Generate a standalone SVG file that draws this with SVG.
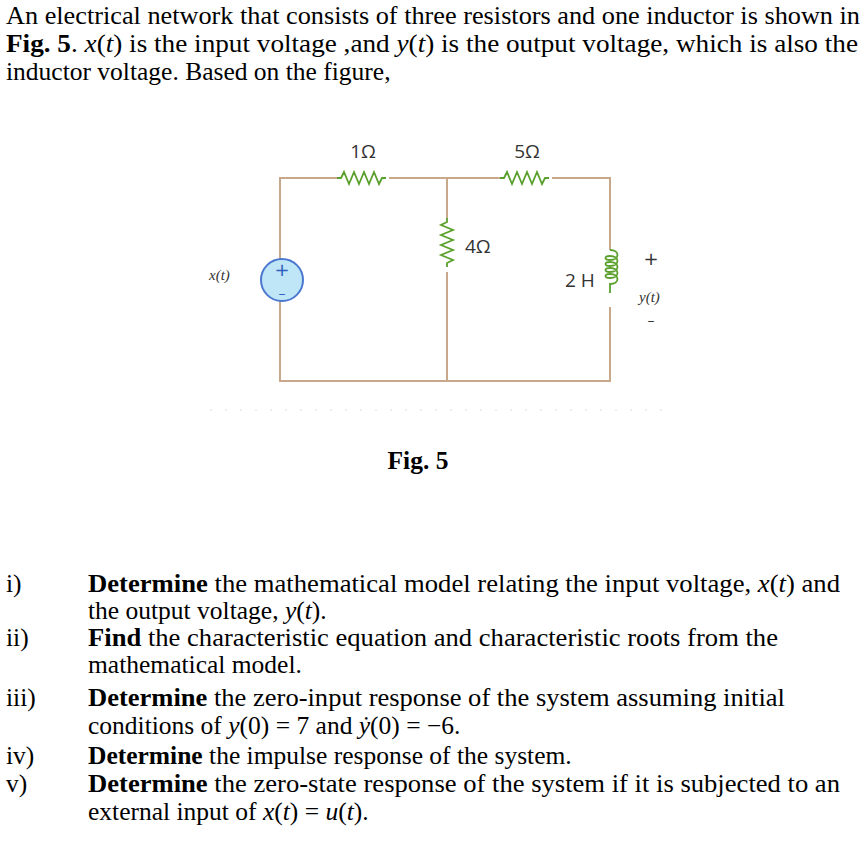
<svg xmlns="http://www.w3.org/2000/svg" width="868" height="844" viewBox="0 0 868 844">
<style>
.t{font-family:"Liberation Serif",serif;font-size:25.5px;fill:#000}
.w{stroke:#c8a88a;stroke-width:2;fill:none}
.g{stroke:#5aa02c;stroke-width:1.8;fill:none}
.l{font-family:"Open Sans","DejaVu Sans",sans-serif;font-size:19px;fill:#333}
.m{font-family:"Liberation Serif",serif;font-style:italic;font-size:15px;fill:#333}
</style>
<rect width="868" height="844" fill="#fff"/>
<text class="t" x="6" y="24" textLength="854" lengthAdjust="spacingAndGlyphs">An electrical network that consists of three resistors and one inductor is shown in</text>
<text class="t" x="6" y="52" textLength="852" lengthAdjust="spacingAndGlyphs"><tspan font-weight="bold">Fig. 5</tspan>. <tspan font-style="italic">x</tspan>(<tspan font-style="italic">t</tspan>) is the input voltage ,and <tspan font-style="italic">y</tspan>(<tspan font-style="italic">t</tspan>) is the output voltage, which is also the</text>
<text class="t" x="6" y="80">inductor voltage. Based on the figure,</text>
<g id="connectors">
<path class="w" d="M280,280 V178 H337 M389,178 H500 M552,178 H610 V250 M610,307 V381 H280 V280 M447,178 V218 M447,272 V381"/>
</g>
<g id="r1"><path class="g" d="M337,178 l4,0 3,-6 5,12 5,-12 5,12 5,-12 5,12 5,-12 5,12 3,-6 h4"/><text class="l" x="363" y="158" text-anchor="middle">1Ω</text></g>
<g id="r5"><path class="g" d="M500,178 l4,0 3,-6 5,12 5,-12 5,12 5,-12 5,12 5,-12 5,12 3,-6 h4"/><text class="l" x="527" y="158" text-anchor="middle">5Ω</text></g>
<g id="r4"><path class="g" d="M447,218 l0,4 -6,3 12,5 -12,5 12,5 -12,5 12,5 -12,5 12,5 -6,3 v4"/><text class="l" x="465" y="253">4Ω</text></g>
<g id="src"><circle cx="282" cy="280" r="21" fill="#bfe6f7" stroke="#4a78d0" stroke-width="2"/><text x="282" y="276" text-anchor="middle" font-family="DejaVu Sans,sans-serif" font-size="18" fill="#3060c0">+</text><text x="282" y="298" text-anchor="middle" font-family="DejaVu Sans,sans-serif" font-size="14" fill="#3060c0">–</text><text class="m" x="209" y="280">x(t)</text></g>
<g id="ind"><path class="g" d="M610,250 c10,0 10,10 0,10 c-6,0 -6,-4 0,-4 c10,0 10,10 0,10 c-6,0 -6,-4 0,-4 c10,0 10,10 0,10 c-6,0 -6,-4 0,-4 c10,0 10,10 0,10 c-6,0 -6,-4 0,-4 c10,0 10,10 0,10 v9"/><text class="l" x="565" y="287">2 H</text><text x="651" y="265" text-anchor="middle" font-family="DejaVu Sans,sans-serif" font-size="18" fill="#333">+</text><text class="m" x="639" y="302">y(t)</text><text x="651" y="325" text-anchor="middle" font-family="DejaVu Sans,sans-serif" font-size="14" fill="#333">–</text></g>
<line x1="210" y1="410" x2="670" y2="410" stroke="#ddd" stroke-dasharray="2,13"/>
<text class="t" x="418" y="469" text-anchor="middle" font-weight="bold" font-size="24">Fig. 5</text>
<g class="t">
<text x="6" y="592">i)</text><text x="88" y="592" textLength="752" lengthAdjust="spacingAndGlyphs"><tspan font-weight="bold">Determine</tspan> the mathematical model relating the input voltage, <tspan font-style="italic">x</tspan>(<tspan font-style="italic">t</tspan>) and</text>
<text x="88" y="619">the output voltage, <tspan font-style="italic">y</tspan>(<tspan font-style="italic">t</tspan>).</text>
<text x="6" y="646">ii)</text><text x="88" y="646" textLength="690" lengthAdjust="spacingAndGlyphs"><tspan font-weight="bold">Find</tspan> the characteristic equation and characteristic roots from the</text>
<text x="88" y="673">mathematical model.</text>
<text x="6" y="706">iii)</text><text x="88" y="706" textLength="697" lengthAdjust="spacingAndGlyphs"><tspan font-weight="bold">Determine</tspan> the zero-input response of the system assuming initial</text>
<text x="88" y="734">conditions of <tspan font-style="italic">y</tspan>(0) = 7 and <tspan font-style="italic">ẏ</tspan>(0) = −6.</text>
<text x="6" y="764">iv)</text><text x="88" y="764"><tspan font-weight="bold">Determine</tspan> the impulse response of the system.</text>
<text x="6" y="792">v)</text><text x="88" y="792" textLength="752" lengthAdjust="spacingAndGlyphs"><tspan font-weight="bold">Determine</tspan> the zero-state response of the system if it is subjected to an</text>
<text x="88" y="820">external input of <tspan font-style="italic">x</tspan>(<tspan font-style="italic">t</tspan>) = <tspan font-style="italic">u</tspan>(<tspan font-style="italic">t</tspan>).</text>
</g>
</svg>
